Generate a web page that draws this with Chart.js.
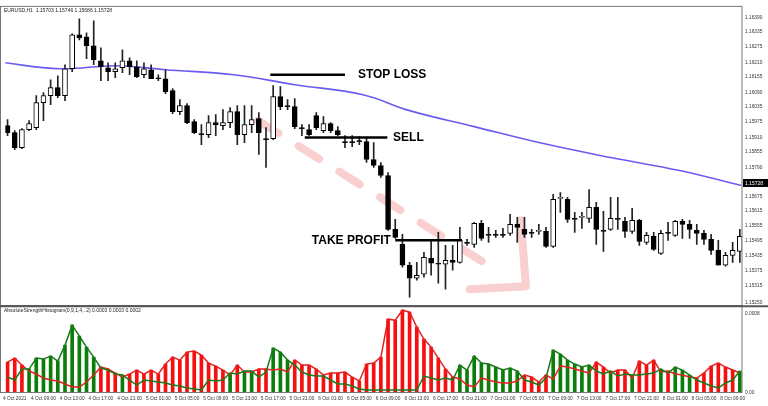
<!DOCTYPE html>
<html><head><meta charset="utf-8">
<script src="https://cdn.jsdelivr.net/npm/chart.js@4.4.1/dist/chart.umd.min.js"></script>
<style>html,body{margin:0;padding:0;background:#fff}#wrap{width:768px;height:406px}</style>
</head><body><div id="wrap"><canvas id="c"></canvas></div>
<script>
const openArr=[1.15958,1.15930,1.15870,1.15942,1.15950,1.16050,1.16078,1.16110,1.16078,1.16186,
1.16322,1.16314,1.16278,1.16218,1.16190,1.16174,1.16190,1.16218,1.16194,1.16162,
1.16182,1.16150,1.16146,1.16098,1.16014,1.16038,1.15974,1.15926,1.15922,1.15970,
1.15958,1.15970,1.16014,1.15922,1.15962,1.15986,1.15906,1.15906,1.16074,1.16038,
1.16034,1.15950,1.15942,1.15998,1.15938,1.15966,1.15938,1.15894,1.15894,1.15898,
1.15894,1.15822,1.15798,1.15758,1.15542,1.15482,1.15398,1.15346,1.15362,1.15426,
1.15406,1.15402,1.15418,1.15410,1.15490,1.15482,1.15566,1.15522,1.15522,1.15522,
1.15526,1.15562,1.15542,1.15530,1.15534,1.15534,1.15474,1.15666,1.15662,1.15586,
1.15590,1.15586,1.15630,1.15538,1.15542,1.15586,1.15574,1.15534,1.15578,1.15490,
1.15514,1.15446,1.15530,1.15518,1.15574,1.15562,1.15538,1.15526,1.15502,1.15458,
1.15398,1.15438,1.15454];
const highArr=[1.15982,1.15938,1.15946,1.15978,1.16078,1.16090,1.16142,1.16158,1.16202,1.16326,
1.16386,1.16330,1.16378,1.16270,1.16210,1.16210,1.16262,1.16230,1.16218,1.16210,
1.16202,1.16162,1.16182,1.16106,1.16062,1.16046,1.15982,1.15962,1.15998,1.16002,
1.16022,1.16030,1.16038,1.16038,1.16038,1.16010,1.15950,1.16118,1.16114,1.16062,
1.16066,1.15962,1.15962,1.16010,1.15994,1.15970,1.15954,1.15918,1.15918,1.15914,
1.15910,1.15890,1.15810,1.15770,1.15582,1.15522,1.15410,1.15410,1.15450,1.15498,
1.15530,1.15478,1.15478,1.15550,1.15502,1.15570,1.15578,1.15550,1.15538,1.15546,
1.15602,1.15590,1.15590,1.15542,1.15562,1.15550,1.15682,1.15690,1.15670,1.15610,
1.15610,1.15702,1.15650,1.15614,1.15670,1.15670,1.15590,1.15626,1.15582,1.15530,
1.15530,1.15538,1.15570,1.15578,1.15582,1.15578,1.15562,1.15538,1.15522,1.15498,
1.15450,1.15490,1.15542];
const lowArr=[1.15918,1.15862,1.15866,1.15938,1.15942,1.15978,1.16042,1.16070,1.16058,1.16174,
1.16302,1.16226,1.16202,1.16138,1.16138,1.16150,1.16170,1.16162,1.16150,1.16150,
1.16146,1.16138,1.16086,1.16006,1.16002,1.15966,1.15926,1.15882,1.15910,1.15918,
1.15942,1.15950,1.15882,1.15890,1.15930,1.15842,1.15790,1.15902,1.16022,1.16022,
1.15946,1.15918,1.15918,1.15942,1.15930,1.15930,1.15918,1.15870,1.15874,1.15882,
1.15810,1.15790,1.15750,1.15538,1.15506,1.15390,1.15270,1.15338,1.15350,1.15358,
1.15326,1.15302,1.15378,1.15406,1.15478,1.15470,1.15498,1.15490,1.15510,1.15510,
1.15518,1.15490,1.15510,1.15510,1.15522,1.15470,1.15470,1.15610,1.15570,1.15530,
1.15546,1.15570,1.15482,1.15454,1.15538,1.15542,1.15510,1.15526,1.15478,1.15482,
1.15458,1.15442,1.15498,1.15514,1.15506,1.15506,1.15482,1.15482,1.15442,1.15398,
1.15394,1.15410,1.15410];
const closeArr=[1.15930,1.15870,1.15942,1.15966,1.16050,1.16078,1.16110,1.16078,1.16186,1.16322,
1.16310,1.16278,1.16222,1.16194,1.16174,1.16186,1.16218,1.16194,1.16154,1.16186,
1.16146,1.16146,1.16094,1.16014,1.16038,1.15970,1.15930,1.15922,1.15970,1.15962,
1.15970,1.16014,1.15922,1.15962,1.15982,1.15930,1.15902,1.16074,1.16034,1.16034,
1.15954,1.15946,1.15922,1.15950,1.15966,1.15938,1.15922,1.15890,1.15890,1.15894,
1.15822,1.15798,1.15758,1.15542,1.15510,1.15398,1.15346,1.15358,1.15430,1.15406,
1.15402,1.15418,1.15410,1.15498,1.15486,1.15566,1.15506,1.15518,1.15518,1.15518,
1.15562,1.15550,1.15522,1.15526,1.15538,1.15474,1.15662,1.15670,1.15582,1.15582,
1.15594,1.15630,1.15542,1.15534,1.15586,1.15582,1.15534,1.15578,1.15494,1.15518,
1.15462,1.15526,1.15526,1.15574,1.15562,1.15542,1.15526,1.15502,1.15458,1.15398,
1.15438,1.15458,1.15514];
const maIdx=[-1,7.3,15,22,31.5,40,49.5,56,65,74,84,93.6,102.2];
const maVal=[1.16212,1.16186,1.16198,1.16182,1.16162,1.16122,1.16082,1.16018,1.15954,1.15890,1.15830,1.15778,1.15718];
// oscillator values in units of 0.00001
const bullArr=[16,13,24,24,35,34,37,32,48,68,57,46,36,
25,23,19,18,13,8,13,12,11,10,8,7,5,4,3,13,12,13,
20,19,22,22,16,21,45,41,33,28,21,18,17,17,13,9,9,7,4,3,3,3,
3,3,3,3,3,17,15,13,15,13,
28,23,37,30,29,26,23,25,22,13,11,8,15,43,39,33,29,26,28,22,19,22,17,19,18,18,19,20,24,20,26,23,18,13,10,7,5,10,13,22];
const bearArr=[31,35,28,22,19,15,13,12,9,6,6,11,18,
26,24,20,16,19,23,19,23,19,29,36,33,41,42,38,30,27,23,
18,28,21,21,24,24,23,24,21,33,28,28,24,18,20,20,21,16,12,29,30,36,
74,73,83,81,66,54,46,35,24,16,
14,8,6,15,13,11,10,10,12,18,16,11,18,14,27,26,24,22,20,31,26,20,23,23,15,32,28,33,21,22,19,18,16,15,20,27,30,26,23,20];
const timeLabels=['4 Oct 2021','4 Oct 09:00','4 Oct 13:00','4 Oct 17:00','4 Oct 21:00','5 Oct 01:00','5 Oct 05:00','5 Oct 09:00','5 Oct 13:00','5 Oct 17:00','5 Oct 21:00','6 Oct 01:00','6 Oct 05:00','6 Oct 09:00','6 Oct 13:00','6 Oct 17:00','6 Oct 21:00','7 Oct 01:00','7 Oct 05:00','7 Oct 09:00','7 Oct 13:00','7 Oct 17:00','7 Oct 21:00','8 Oct 01:00','8 Oct 05:00','8 Oct 09:00'];
const priceTicks=[1.16390,1.16335,1.16275,1.16210,1.16155,1.16090,1.16035,1.15975,1.15910,1.15855,1.15790,1.15675,1.15615,1.15555,1.15495,1.15435,1.15375,1.15315,1.15250];
const lastPrice=1.15728;
const stopLoss={from:36.6,to:47,price:1.16162,text:'STOP LOSS'};
const sellLine={from:41.4,to:52.9,price:1.15910,text:'SELL'};
const takeProfit={from:54,to:63.3,price:1.15498,text:'TAKE PROFIT'};
const pinkDashX=[34.9,67.4], pinkDashY=[1.15978,1.15390];
const pinkHookX=[64.4,72.2,71.5], pinkHookY=[1.15302,1.15314,1.15578];

const idx=openArr.map((_,i)=>i);
const pts=(xs,ys)=>xs.map((x,i)=>({x,y:ys[i]}));
const black='#000';
const ds=[];
ds.push({type:'line',data:pts(pinkDashX,pinkDashY),borderColor:'rgba(246,160,160,0.5)',borderWidth:8,borderDash:[24,24],borderCapStyle:'round',pointRadius:0,order:20,yAxisID:'y'});
ds.push({type:'line',data:pts(pinkHookX,pinkHookY),borderColor:'rgba(246,160,160,0.5)',borderWidth:8,borderCapStyle:'round',borderJoinStyle:'round',pointRadius:0,order:20,yAxisID:'y'});
ds.push({type:'line',data:pts(maIdx,maVal),borderColor:'#6a5cf0',borderWidth:1.6,tension:0.4,pointRadius:0,order:6,yAxisID:'y'});
ds.push({type:'bar',data:idx.map(i=>({x:i,y:[lowArr[i],highArr[i]]})),backgroundColor:'#222',barThickness:1,grouped:false,order:5,yAxisID:'y'});
ds.push({type:'bar',data:idx.map(i=>({x:i,y:[Math.min(openArr[i],closeArr[i]),Math.max(openArr[i],closeArr[i])]})),
  backgroundColor:idx.map(i=>closeArr[i]>openArr[i]?'#fff':'#000'),borderColor:'#000',borderWidth:1,borderSkipped:false,barThickness:5,grouped:false,order:4,yAxisID:'y'});
[stopLoss,sellLine,takeProfit].forEach(l=>ds.push({type:'line',data:[{x:l.from,y:l.price},{x:l.to,y:l.price}],borderColor:black,borderWidth:2.5,pointRadius:0,order:3,yAxisID:'y'}));
ds.push({type:'bar',data:idx.map(i=>({x:i,y:Math.max(bullArr[i],bearArr[i])})),backgroundColor:idx.map(i=>bullArr[i]>bearArr[i]?'#0a7d0a':'#f50f0f'),barThickness:3,grouped:false,order:8,yAxisID:'y2'});
ds.push({type:'line',data:pts(idx,bullArr),borderColor:'#1a7a1a',borderWidth:1.5,pointRadius:0,order:7,yAxisID:'y2'});
ds.push({type:'line',data:pts(idx,bearArr),borderColor:'#e52020',borderWidth:1.5,pointRadius:0,order:7,yAxisID:'y2'});

const F='"Liberation Sans", Arial, sans-serif';
const deco={id:'deco',afterDraw(ch){
  const c=ch.ctx,a=ch.chartArea,x=ch.scales.x,y=ch.scales.y,y2=ch.scales.y2;
  c.save();
  c.strokeStyle='#777';c.lineWidth=1;
  c.strokeRect(0.5,y.top+0.5,a.right-0.5,y.bottom-y.top);
  c.strokeRect(0.5,y2.top+0.5,a.right-0.5,y2.bottom-y2.top-1);
  c.strokeStyle='#555';c.lineWidth=2;c.beginPath();c.moveTo(0,y.bottom+1);c.lineTo(768,y.bottom+1);c.stroke();
  c.fillStyle='#000';c.font='bold 12px '+F;c.textBaseline='middle';
  c.textAlign='left';
  c.fillText(stopLoss.text,x.getPixelForValue(48.8),y.getPixelForValue(stopLoss.price));
  c.fillText(sellLine.text,x.getPixelForValue(53.7),y.getPixelForValue(sellLine.price));
  c.textAlign='right';
  c.fillText(takeProfit.text,x.getPixelForValue(53.4),y.getPixelForValue(takeProfit.price));
  c.textAlign='left';c.font='5px '+F;c.fillStyle='#222';
  c.fillText('EURUSD,H1  1.15703 1.15746 1.15686 1.15728',4,y.top+5);
  c.fillText('AbsoluteStrengthHistogram(0,9,1,4,..2) 0.0003 0.0003 0.0002',4,y2.top+5);
  const py=y.getPixelForValue(lastPrice);
  c.fillStyle='#000';c.fillRect(a.right+1,py-4,25,8);
  c.fillStyle='#fff';c.fillText(lastPrice.toFixed(5),a.right+3,py+0.5);
  c.restore();
}};
const noGrid={display:false,drawTicks:false,tickLength:0};
new Chart(document.getElementById('c'),{
  data:{datasets:ds},
  options:{responsive:true,maintainAspectRatio:false,animation:false,
    layout:{padding:{top:3,left:0,right:0,bottom:0}},
    plugins:{legend:{display:false},tooltip:{enabled:false}},
    scales:{
      x:{type:'linear',min:-0.3,max:102.3,offset:false,grid:noGrid,border:{display:false},
        afterBuildTicks:s=>{s.ticks=timeLabels.map((_,k)=>({value:1+4*k}));},
        afterFit:s=>{s.height=13;},
        ticks:{autoSkip:false,maxRotation:0,font:{size:4.8,family:F},color:'#333',padding:3,
          callback:(v,k)=>timeLabels[k]}},
      y:{position:'right',stack:'p',stackWeight:300,min:1.15238,max:1.16438,grid:noGrid,border:{display:false},
        afterBuildTicks:s=>{s.ticks=priceTicks.map(v=>({value:v}));},
        afterFit:s=>{s.width=26;},
        ticks:{autoSkip:false,font:{size:4.8,family:F},color:'#333',padding:3,callback:v=>v.toFixed(5)}},
      y2:{position:'right',stack:'p',stackWeight:88,min:0,max:88,grid:noGrid,border:{display:false},
        afterBuildTicks:s=>{s.ticks=[{value:80},{value:0}];},
        afterFit:s=>{s.width=26;},
        ticks:{autoSkip:false,font:{size:4.8,family:F},color:'#333',padding:3,callback:v=>v===0?'0.00':(v/1e5).toFixed(4)}}
    }},
  plugins:[deco]
});
</script></body></html>
